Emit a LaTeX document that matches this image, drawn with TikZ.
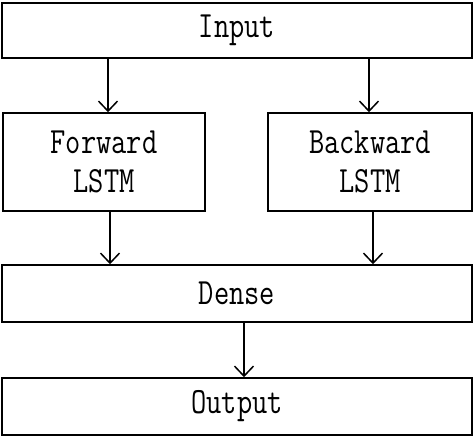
\documentclass[tikz,border=0pt]{standalone}
\usetikzlibrary{arrows.meta,calc}
\begin{document}
\begin{tikzpicture}[x=1pt,y=-1pt,
  box/.style={draw=black,line width=1.6pt,inner sep=0pt,align=center,
    font=\fontsize{37}{39}\selectfont\ttfamily},
  arr/.style={line width=1.5pt,-{Straight Barb[length=10pt,width=19pt,line width=1.5pt]}}]
\useasboundingbox (0,0) rectangle (474,437);
\newcommand{\sx}[1]{\scalebox{0.8}[1]{#1}}
\node[box,minimum width=470pt,minimum height=55pt] (input) at (237,30.5) {\sx{Input}};
\node[box,minimum width=202pt,minimum height=98pt] (fwd) at (104,162) {\sx{Forward}\\\sx{LSTM}};
\node[box,minimum width=204pt,minimum height=98pt] (bwd) at (370,162) {\sx{Backward}\\\sx{LSTM}};
\node[box,minimum width=470pt,minimum height=57pt] (dense) at (237,293.5) {\sx{Dense}};
\node[box,minimum width=470pt,minimum height=57pt] (output) at (237,406.5) {\sx{Output}};
\draw[arr] ([xshift=4pt]input.south -| fwd.north) -- ([xshift=4pt]fwd.north);
\draw[arr] ([xshift=-1pt]input.south -| bwd.north) -- ([xshift=-1pt]bwd.north);
\draw[arr] ([xshift=6pt]fwd.south) -- ([xshift=6pt]dense.north -| fwd.south);
\draw[arr] ([xshift=3pt]bwd.south) -- ([xshift=3pt]dense.north -| bwd.south);
\draw[arr] ([xshift=7pt]dense.south) -- ([xshift=7pt]output.north);
\end{tikzpicture}
\end{document}
